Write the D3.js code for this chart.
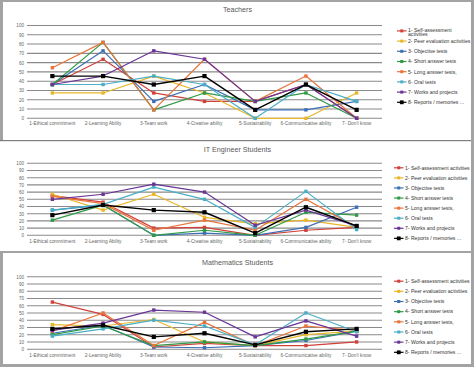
<!DOCTYPE html>
<html><head><meta charset="utf-8">
<script src="https://cdn.jsdelivr.net/npm/d3@7"></script>
<style>html,body{margin:0;padding:0;background:#fff;}svg{display:block;}</style>
</head><body>
<script>
// ---- data ----
const categories = ["1-Ethical commitment","2-Learning Ability","3-Team work","4-Creative ability","5-Sustainability","6-Communicative ability","7- Don't know"];
const seriesNames = ["1- Self-assessment activities","2- Peer evaluation activities","3- Objective tests","4- Short answer tests","5- Long answer tests,","6- Oral tests","7- Works and projects","8- Reports / memories ..."];
const seriesColors = ["#d0413a","#e9b62a","#3d6fb5","#2f9a46","#e8743b","#4aaec6","#6a3597","#000000"];
const yTicks = [0,10,20,30,40,50,60,70,80,90,100];
const panelTitles = ["Teachers","IT Engineer Students","Mathematics Students"];

const teachers = [
  [36.4,63.6,27.3,18.2,18.2,36.4,0],
  [27.3,27.3,45.5,27.3,0,0,27.3],
  [36.4,72.7,18.2,36.4,9.1,9.1,18.2],
  [36.4,81.8,9.1,27.3,18.2,27.3,0],
  [54.5,81.8,9.1,63.6,18.2,45.5,0],
  [36.4,36.4,45.5,36.4,0,36.4,18.2],
  [36.4,45.5,72.7,63.6,18.2,36.4,0],
  [45.5,45.5,36.4,45.5,9.1,36.4,9.1]
];
const itStudents = [
  [55,46,10,11,0,7,11],
  [57,35,57,25,16,21,11],
  [35,42,0,3,0,11,39],
  [21,42,0,7,0,32,28],
  [54,44,7,21,7,50,11],
  [35,43,67,50,11,61,8],
  [50,57,71,60,14,35,13],
  [28,42,35,32,3,39,13]
];
const mathStudents = [
  [65,48,3,8,5,5,10],
  [34,32,41,10,5,20,25],
  [22,33,3,2,5,12,25],
  [20,32,5,10,5,14,25],
  [25,50,5,37,5,32,26],
  [18,28,40,32,6,50,24],
  [26,36,54,51,17,39,18],
  [28,33,17,22,6,24,28]
];

// ---- layout ----
const W = 474, H = 367;
const svg = d3.select("body").append("svg").attr("width", W).attr("height", H);

// frame
svg.append("rect").attr("x",0).attr("y",0).attr("width",W).attr("height",H).attr("fill","#a3a3a3");
svg.append("rect").attr("x",3).attr("y",2).attr("width",468).attr("height",138.5).attr("fill","#fff");
svg.append("rect").attr("x",0).attr("y",141).attr("width",471).attr("height",110).attr("fill","#fff");
svg.append("rect").attr("x",3).attr("y",253).attr("width",468).attr("height",111).attr("fill","#fff");
svg.append("line").attr("x1",0).attr("x2",471).attr("y1",140.7).attr("y2",140.7).attr("stroke","#6e6e6e").attr("stroke-width",1);

const font = "'Liberation Sans', Arial, sans-serif";
const x = d3.scaleBand().domain(categories).range([27, 382]);
const cx = c => x(c) + x.bandwidth()/2;

const panels = [
  {title: panelTitles[0], data: teachers, titleY: 11.5, y0: 118.3, y1: 25.5, catY: 125.2, legX: 397, legY: 30.9, legStep: 10.2, wrapFirst: true},
  {title: panelTitles[1], data: itStudents, titleY: 151.5, y0: 235.3, y1: 163.3, catY: 242.6, legX: 394, legY: 167.8, legStep: 10.08, wrapFirst: false},
  {title: panelTitles[2], data: mathStudents, titleY: 264.5, y0: 349.2, y1: 276.7, catY: 356.5, legX: 394, legY: 281.2, legStep: 10.16, wrapFirst: false}
];

panels.forEach(p => {
  const g = svg.append("g");
  const y = d3.scaleLinear().domain([0,100]).range([p.y0, p.y1]);

  g.append("text").attr("x", 237.5).attr("y", p.titleY).attr("text-anchor","middle")
    .attr("font-family", font).attr("font-size", 7.2).attr("fill","#595959").text(p.title);

  // gridlines
  g.selectAll(".grid").data(yTicks).enter().append("line")
    .attr("x1", 27).attr("x2", 382)
    .attr("y1", d => y(d)).attr("y2", d => y(d))
    .attr("stroke", "#8a8a8a").attr("stroke-width", 1.1);

  // y axis labels
  const ax = g.append("g").attr("transform","translate(27,0)")
    .call(d3.axisLeft(y).tickValues(yTicks).tickSize(0).tickPadding(3));
  ax.select(".domain").remove();
  ax.selectAll("text").attr("font-family", font).attr("font-size", 4.6).attr("fill","#666");

  // category labels
  g.selectAll(".cat").data(categories).enter().append("text")
    .attr("x", d => cx(d)).attr("y", p.catY).attr("text-anchor","middle")
    .attr("font-family", font).attr("font-size", 4.8).attr("fill","#666").text(d => d);

  // series
  const line = d3.line().x((d,i) => cx(categories[i])).y(d => y(d));
  p.data.forEach((vals, si) => {
    const col = seriesColors[si];
    g.append("path").attr("d", line(vals)).attr("fill","none")
      .attr("stroke", col).attr("stroke-width", si === 7 ? 1.4 : 1.2).attr("stroke-linejoin","round");
    const ms = si === 7 ? 4.2 : 3.4;
    g.selectAll(null).data(vals).enter().append("rect")
      .attr("x", (d,i) => cx(categories[i]) - ms/2).attr("y", d => y(d) - ms/2)
      .attr("width", ms).attr("height", ms).attr("fill", col);
  });

  // legend
  seriesNames.forEach((name, si) => {
    const col = seriesColors[si];
    const ly = p.legY + si * p.legStep + (p.wrapFirst && si > 0 ? 0 : 0);
    g.append("line").attr("x1", p.legX).attr("x2", p.legX + 9.5).attr("y1", ly).attr("y2", ly)
      .attr("stroke", col).attr("stroke-width", 1.2);
    const ms = si === 7 ? 3.8 : 3;
    g.append("rect").attr("x", p.legX + 4.75 - ms/2).attr("y", ly - ms/2).attr("width", ms).attr("height", ms).attr("fill", col);
    const t = g.append("text").attr("x", p.legX + 11).attr("y", ly + 1.8)
      .attr("font-family", font).attr("font-size", 5.1).attr("fill","#333");
    if (p.wrapFirst && si === 0) {
      t.append("tspan").attr("x", p.legX + 11).attr("y", ly + 0.8).text("1- Self-assessment");
      t.append("tspan").attr("x", p.legX + 11).attr("y", ly + 5.4).text("activities");
    } else {
      t.text(name);
    }
  });
});
</script>
</body></html>
